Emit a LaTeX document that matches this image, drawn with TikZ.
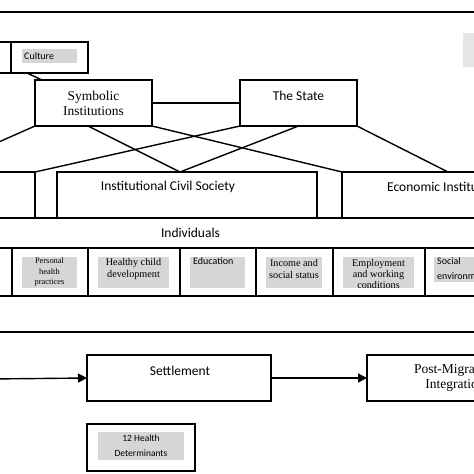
\documentclass[tikz,border=0pt]{standalone}
\usepackage{fontspec}
\setmainfont{Liberation Serif}
\setsansfont{Carlito}
\usetikzlibrary{arrows.meta,calc}
\begin{document}
\begin{tikzpicture}[x=1pt,y=-1pt,
  box/.style={draw, line width=1.4pt, inner sep=0pt, outer sep=0pt, anchor=north west},
  heavy/.style={line width=2.2pt},
  greylbl/.style={fill=black!16, draw=none, inner sep=0pt, outer sep=0pt, anchor=north west},
  conn/.style={line width=1.4pt},
  arr/.style={line width=1.4pt, -{Triangle[length=9pt,width=9pt]}},
  serifbig/.style={font=\fontsize{13.5}{15}\selectfont, align=center, inner sep=0pt},
  sansbig/.style={font=\sffamily\fontsize{13.5}{15}\selectfont, inner sep=0pt},
  serifsm/.style={font=\fontsize{10.2}{11.5}\selectfont, align=center, inner sep=0pt},
  sanssm/.style={font=\sffamily\fontsize{10}{15}\selectfont, align=left, inner sep=0pt, anchor=north west}]
\path[use as bounding box, clip] (0,0) rectangle (474,474);
\fill[white] (0,0) rectangle (474,474);

% top separator
\coordinate (topL) at (-5,12);
\coordinate (topR) at (480,12);
\draw[line width=1.6pt] (topL) -- (topR);

% culture row
\node[box, minimum width=51, minimum height=31] (cultL) at (-40,42) {};
\node[box, minimum width=77, minimum height=31] (cult) at (11,42) {};
\node[greylbl, minimum width=55, minimum height=14] (cultg) at (22,49) {};
\node[font=\sffamily\fontsize{10}{12}\selectfont, inner sep=0pt, anchor=west] (cultT) at (24,56) {Culture};

% top right grey label
\node[greylbl, fill=black!10, minimum width=40, minimum height=34] (trg) at (463,33) {};

% symbolic institutions and state
\node[box, minimum width=117, minimum height=46, serifbig] (sym) at (35,80) {Symbolic\\Institutions};
\node[box, minimum width=117, minimum height=46] (state) at (240,80) {};
\node[sansbig] (stateT) at (298.5,96) {The State};

% middle row
\node[box, minimum width=104, minimum height=46] (civL) at (-69,172) {};
\node[box, minimum width=260, minimum height=46] (ics) at (57,172) {};
\node[box, minimum width=218, minimum height=46] (econ) at (342,172) {};
\node[sansbig] (icsT) at (168,187) {Institutional Civil Society};
\node[sansbig, anchor=west] (econT) at (387,187) {Economic Institutions};

% connectors
\draw[conn] ([xshift=16pt]cult.south west) -- ([xshift=7pt]sym.north west);
\draw[conn] (sym.east) -- (state.west);
\draw[conn] (sym.south west) -- (civL.north west);
\draw[conn] ([xshift=53pt]sym.south west) -- ([xshift=123pt]ics.north west);
\draw[conn] (sym.south east) -- (econ.north west);
\draw[conn] (state.south west) -- (civL.north east);
\draw[conn] (state.south) -- ([xshift=123pt]ics.north west);
\draw[conn] (state.south east) -- ([xshift=106pt]econ.north west);

% individuals band
\node[box, heavy, minimum width=629, minimum height=30] (indiv) at (-69,218) {};
\node[sansbig] (indivT) at (190.5,233) {Individuals};

% determinants row
\node[box, minimum width=81, minimum height=48] (d0) at (-69,248) {};
\node[box, minimum width=76, minimum height=48] (d1) at (12,248) {};
\node[box, minimum width=92, minimum height=48] (d2) at (88,248) {};
\node[box, minimum width=76, minimum height=48] (d3) at (180,248) {};
\node[box, minimum width=77, minimum height=48] (d4) at (256,248) {};
\node[box, minimum width=92, minimum height=48] (d5) at (333,248) {};
\node[box, minimum width=135, minimum height=48] (d6) at (425,248) {};
\draw[heavy] (d0.north west) -- (d6.north east);
\draw[heavy] (d0.south west) -- (d6.south east);

\node[greylbl, minimum width=55, minimum height=31] (g1) at (22,257) {};
\node[greylbl, minimum width=71, minimum height=31] (g2) at (98,257) {};
\node[greylbl, minimum width=55, minimum height=31] (g3) at (190,257) {};
\node[greylbl, minimum width=56, minimum height=31] (g4) at (266,257) {};
\node[greylbl, minimum width=71, minimum height=31] (g5) at (343,257) {};
\node[greylbl, minimum width=60, minimum height=25] (g6) at (434,257) {};

\node[font=\fontsize{8.4}{10.5}\selectfont, align=center, inner sep=0pt] (t1) at (49.5,272) {Personal\\health\\practices};
\node[serifsm] (t2) at (133.5,269) {Healthy child\\development};
\node[sanssm] (t3) at (193,257) {Education};
\node[serifsm] (t4) at (294,269) {Income and\\social status};
\node[serifsm, font=\fontsize{10.2}{11}\selectfont] (t5) at (378.5,274) {Employment\\and working\\conditions};
\node[sanssm] (t6) at (437,257) {Social\\environments};

% lower separator
\coordinate (sepL) at (-5,332);
\coordinate (sepR) at (480,332);
\draw[heavy] (sepL) -- (sepR);

% migration stages
\node[box, minimum width=184, minimum height=46] (settle) at (87,355) {};
\node[sansbig] (settleT) at (180,371) {Settlement};
\node[box, minimum width=200, minimum height=46] (pm) at (367,355) {};
\node[serifbig] (pmT) at (455,378) {Post-Migration\\Integration};
\coordinate (inL) at (-10,379);
\draw[arr] (inL) -- (settle.west);
\draw[arr] (settle.east) -- (pm.west);

% 12 health determinants
\node[box, minimum width=108, minimum height=47] (hd) at (87,424) {};
\node[greylbl, minimum width=86, minimum height=28] (hdg) at (98,432) {};
\node[font=\sffamily\fontsize{9.5}{15}\selectfont, align=center, inner sep=0pt] (hdT) at (141,445.5) {12 Health\\Determinants};
\end{tikzpicture}
\end{document}
